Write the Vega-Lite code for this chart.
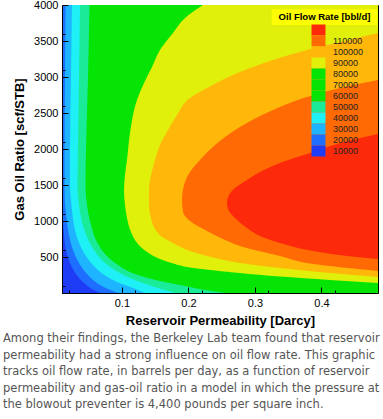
{
  "$schema": "https://vega.github.io/schema/vega-lite/v6.json",
  "width": 316,
  "height": 288,
  "autosize": {"type": "none"},
  "padding": {"left": 62, "top": 5, "right": 5, "bottom": 126},
  "background": "white",
  "config": {"view": {"stroke": "#000", "strokeWidth": 1}, "font": "Liberation Sans"},
  "title": {
    "text": [
      "Among their findings, the Berkeley Lab team found that reservoir",
      "permeability had a strong influence on oil flow rate. This graphic",
      "tracks oil flow rate, in barrels per day, as a function of reservoir",
      "permeability and gas-oil ratio in a model in which the pressure at",
      "the blowout preventer is 4,400 pounds per square inch."
    ],
    "orient": "bottom",
    "anchor": "start",
    "frame": "group",
    "dx": -59,
    "offset": 6,
    "font": "DejaVu Sans",
    "fontSize": 11.5,
    "fontWeight": "normal",
    "color": "#555555",
    "lineHeight": 16.5,
    "baseline": "top"
  },
  "resolve": {"axis": {"x": "independent", "y": "independent"}},
  "layer": [
    {
      "data": {
        "values": [
          {"band": "0", "perm": 0.01, "gor": 0},
          {"band": "0", "perm": 0.01, "gor": 4000},
          {"band": "10000", "perm": 0.0109, "gor": 4000},
          {"band": "10000", "perm": 0.0106, "gor": 2681},
          {"band": "10000", "perm": 0.0104, "gor": 1569},
          {"band": "10000", "perm": 0.0112, "gor": 1083},
          {"band": "10000", "perm": 0.0130, "gor": 806},
          {"band": "10000", "perm": 0.0160, "gor": 597},
          {"band": "10000", "perm": 0.0220, "gor": 417},
          {"band": "10000", "perm": 0.0310, "gor": 264},
          {"band": "10000", "perm": 0.0431, "gor": 139},
          {"band": "10000", "perm": 0.0551, "gor": 56},
          {"band": "10000", "perm": 0.0671, "gor": 0},
          {"band": "20000", "perm": 0.0153, "gor": 4000},
          {"band": "20000", "perm": 0.0145, "gor": 3000},
          {"band": "20000", "perm": 0.0138, "gor": 2000},
          {"band": "20000", "perm": 0.0138, "gor": 1431},
          {"band": "20000", "perm": 0.0160, "gor": 1083},
          {"band": "20000", "perm": 0.0205, "gor": 806},
          {"band": "20000", "perm": 0.0265, "gor": 597},
          {"band": "20000", "perm": 0.0356, "gor": 417},
          {"band": "20000", "perm": 0.0476, "gor": 264},
          {"band": "20000", "perm": 0.0626, "gor": 139},
          {"band": "20000", "perm": 0.0791, "gor": 56},
          {"band": "20000", "perm": 0.0942, "gor": 0},
          {"band": "30000", "perm": 0.0250, "gor": 4000},
          {"band": "30000", "perm": 0.0235, "gor": 3000},
          {"band": "30000", "perm": 0.0220, "gor": 2000},
          {"band": "30000", "perm": 0.0220, "gor": 1500},
          {"band": "30000", "perm": 0.0243, "gor": 1222},
          {"band": "30000", "perm": 0.0280, "gor": 944},
          {"band": "30000", "perm": 0.0340, "gor": 736},
          {"band": "30000", "perm": 0.0431, "gor": 556},
          {"band": "30000", "perm": 0.0551, "gor": 403},
          {"band": "30000", "perm": 0.0716, "gor": 264},
          {"band": "30000", "perm": 0.0927, "gor": 153},
          {"band": "30000", "perm": 0.1167, "gor": 69},
          {"band": "30000", "perm": 0.1348, "gor": 0},
          {"band": "40000", "perm": 0.0371, "gor": 4000},
          {"band": "40000", "perm": 0.0356, "gor": 3000},
          {"band": "40000", "perm": 0.0340, "gor": 2000},
          {"band": "40000", "perm": 0.0333, "gor": 1500},
          {"band": "40000", "perm": 0.0356, "gor": 1222},
          {"band": "40000", "perm": 0.0401, "gor": 986},
          {"band": "40000", "perm": 0.0476, "gor": 778},
          {"band": "40000", "perm": 0.0581, "gor": 597},
          {"band": "40000", "perm": 0.0731, "gor": 431},
          {"band": "40000", "perm": 0.0942, "gor": 292},
          {"band": "40000", "perm": 0.1197, "gor": 181},
          {"band": "40000", "perm": 0.1498, "gor": 83},
          {"band": "40000", "perm": 0.1799, "gor": 0},
          {"band": "50000", "perm": 0.0513, "gor": 4000},
          {"band": "50000", "perm": 0.0491, "gor": 3000},
          {"band": "50000", "perm": 0.0461, "gor": 2000},
          {"band": "50000", "perm": 0.0453, "gor": 1500},
          {"band": "50000", "perm": 0.0476, "gor": 1222},
          {"band": "50000", "perm": 0.0536, "gor": 944},
          {"band": "50000", "perm": 0.0626, "gor": 708},
          {"band": "50000", "perm": 0.0761, "gor": 528},
          {"band": "50000", "perm": 0.0942, "gor": 389},
          {"band": "50000", "perm": 0.1197, "gor": 264},
          {"band": "50000", "perm": 0.1573, "gor": 167},
          {"band": "50000", "perm": 0.1949, "gor": 97},
          {"band": "50000", "perm": 0.2250, "gor": 42},
          {"band": "50000", "perm": 0.2551, "gor": 0},
          {"band": "80000", "perm": 0.2219, "gor": 4000},
          {"band": "80000", "perm": 0.1949, "gor": 3819},
          {"band": "80000", "perm": 0.1768, "gor": 3611},
          {"band": "80000", "perm": 0.1573, "gor": 3375},
          {"band": "80000", "perm": 0.1453, "gor": 3139},
          {"band": "80000", "perm": 0.1333, "gor": 2917},
          {"band": "80000", "perm": 0.1227, "gor": 2681},
          {"band": "80000", "perm": 0.1122, "gor": 2222},
          {"band": "80000", "perm": 0.1077, "gor": 1847},
          {"band": "80000", "perm": 0.1047, "gor": 1639},
          {"band": "80000", "perm": 0.1032, "gor": 1431},
          {"band": "80000", "perm": 0.1047, "gor": 1222},
          {"band": "80000", "perm": 0.1077, "gor": 1042},
          {"band": "80000", "perm": 0.1137, "gor": 847},
          {"band": "80000", "perm": 0.1242, "gor": 681},
          {"band": "80000", "perm": 0.1378, "gor": 569},
          {"band": "80000", "perm": 0.1573, "gor": 472},
          {"band": "80000", "perm": 0.1799, "gor": 403},
          {"band": "80000", "perm": 0.2024, "gor": 354},
          {"band": "80000", "perm": 0.2400, "gor": 313},
          {"band": "80000", "perm": 0.2775, "gor": 278},
          {"band": "80000", "perm": 0.3377, "gor": 229},
          {"band": "80000", "perm": 0.4128, "gor": 181},
          {"band": "80000", "perm": 0.4850, "gor": 139},
          {"band": "90000", "perm": 0.4850, "gor": 3611},
          {"band": "90000", "perm": 0.4279, "gor": 3486},
          {"band": "90000", "perm": 0.3783, "gor": 3375},
          {"band": "90000", "perm": 0.3272, "gor": 3236},
          {"band": "90000", "perm": 0.2775, "gor": 3069},
          {"band": "90000", "perm": 0.2279, "gor": 2847},
          {"band": "90000", "perm": 0.2024, "gor": 2708},
          {"band": "90000", "perm": 0.1829, "gor": 2472},
          {"band": "90000", "perm": 0.1693, "gor": 2264},
          {"band": "90000", "perm": 0.1573, "gor": 2056},
          {"band": "90000", "perm": 0.1498, "gor": 1847},
          {"band": "90000", "perm": 0.1438, "gor": 1639},
          {"band": "90000", "perm": 0.1408, "gor": 1431},
          {"band": "90000", "perm": 0.1408, "gor": 1222},
          {"band": "90000", "perm": 0.1438, "gor": 1042},
          {"band": "90000", "perm": 0.1498, "gor": 889},
          {"band": "90000", "perm": 0.1603, "gor": 778},
          {"band": "90000", "perm": 0.1768, "gor": 694},
          {"band": "90000", "perm": 0.2024, "gor": 583},
          {"band": "90000", "perm": 0.2279, "gor": 514},
          {"band": "90000", "perm": 0.2775, "gor": 417},
          {"band": "90000", "perm": 0.3377, "gor": 347},
          {"band": "90000", "perm": 0.4128, "gor": 278},
          {"band": "90000", "perm": 0.4850, "gor": 222},
          {"band": "100000", "perm": 0.4850, "gor": 2958},
          {"band": "100000", "perm": 0.4279, "gor": 2847},
          {"band": "100000", "perm": 0.3783, "gor": 2722},
          {"band": "100000", "perm": 0.3272, "gor": 2542},
          {"band": "100000", "perm": 0.2775, "gor": 2306},
          {"band": "100000", "perm": 0.2400, "gor": 2056},
          {"band": "100000", "perm": 0.2174, "gor": 1847},
          {"band": "100000", "perm": 0.2024, "gor": 1681},
          {"band": "100000", "perm": 0.1934, "gor": 1500},
          {"band": "100000", "perm": 0.1904, "gor": 1292},
          {"band": "100000", "perm": 0.1919, "gor": 1125},
          {"band": "100000", "perm": 0.2024, "gor": 1000},
          {"band": "100000", "perm": 0.2279, "gor": 861},
          {"band": "100000", "perm": 0.2520, "gor": 750},
          {"band": "100000", "perm": 0.2775, "gor": 653},
          {"band": "100000", "perm": 0.3377, "gor": 514},
          {"band": "100000", "perm": 0.3873, "gor": 403},
          {"band": "100000", "perm": 0.4850, "gor": 306},
          {"band": "110000", "perm": 0.4850, "gor": 2208},
          {"band": "110000", "perm": 0.4279, "gor": 2083},
          {"band": "110000", "perm": 0.3873, "gor": 1958},
          {"band": "110000", "perm": 0.3377, "gor": 1806},
          {"band": "110000", "perm": 0.3076, "gor": 1681},
          {"band": "110000", "perm": 0.2881, "gor": 1569},
          {"band": "110000", "perm": 0.2700, "gor": 1458},
          {"band": "110000", "perm": 0.2610, "gor": 1361},
          {"band": "110000", "perm": 0.2580, "gor": 1250},
          {"band": "110000", "perm": 0.2610, "gor": 1139},
          {"band": "110000", "perm": 0.2700, "gor": 1042},
          {"band": "110000", "perm": 0.2881, "gor": 903},
          {"band": "110000", "perm": 0.3076, "gor": 792},
          {"band": "110000", "perm": 0.3377, "gor": 694},
          {"band": "110000", "perm": 0.3873, "gor": 583},
          {"band": "110000", "perm": 0.4384, "gor": 514},
          {"band": "110000", "perm": 0.4850, "gor": 472}
        ]
      },
      "mark": {"type": "area", "orient": "horizontal", "interpolate": "monotone", "clip": true},
      "encoding": {
        "y": {
          "field": "gor", "type": "quantitative",
          "scale": {"domain": [0, 4000], "nice": false, "zero": false},
          "axis": {
            "title": "Gas Oil Ratio [scf/STB]",
            "values": [500, 1000, 1500, 2000, 2500, 3000, 3500, 4000],
            "format": "d",
            "grid": false, "zindex": 1,
            "domainColor": "#000", "tickColor": "#000", "tickSize": -6,
            "labelPadding": 10, "labelFontSize": 11, "labelColor": "#000", "labelFont": "Liberation Sans",
            "labelFlush": false, "labelOverlap": false,
            "titleFontSize": 13, "titleFontWeight": "bold", "titleColor": "#000", "titleFont": "Liberation Sans", "titlePadding": 7
          }
        },
        "x": {
          "field": "perm", "type": "quantitative", "stack": null,
          "scale": {"domain": [0.01, 0.485], "nice": false, "zero": false},
          "axis": {
            "title": "Reservoir Permeability [Darcy]",
            "values": [0.1, 0.2, 0.3, 0.4],
            "format": ".1f",
            "grid": false, "zindex": 1,
            "domainColor": "#000", "tickColor": "#000", "tickSize": -6,
            "labelPadding": 10, "labelFontSize": 11, "labelColor": "#000", "labelFont": "Liberation Sans",
            "labelFlush": false, "labelOverlap": false,
            "titleFontSize": 13, "titleFontWeight": "bold", "titleColor": "#000", "titleFont": "Liberation Sans", "titlePadding": 6
          }
        },
        "x2": {"datum": 0.485},
        "color": {
          "field": "band", "type": "nominal",
          "scale": {
            "domain": ["110000", "100000", "90000", "80000", "70000", "60000", "50000", "40000", "30000", "20000", "10000", "0"],
            "range": ["#fc2a0a", "#ff6a05", "#ffb80a", "#e0f00a", "#05e405", "#05e405", "#05e405", "#1aeb98", "#1ef0f5", "#1eb4ff", "#1e6eff", "#1e3cf5"]
          },
          "legend": {
            "orient": "none", "legendX": 251, "legendY": 19.5, "title": null, "padding": 0,
            "symbolType": "M-1.27,-1H1.27V1H-1.27Z", "symbolSize": 121, "symbolStrokeWidth": 0, "symbolOpacity": 1,
            "rowPadding": 0, "labelOffset": 9, "labelFontSize": 9, "labelFont": "Liberation Sans", "labelColor": "#222",
            "labelBaseline": "middle",
            "labelExpr": "{'110000': '', '100000': '110000', '90000': '100000', '80000': '90000', '70000': '80000', '60000': '70000', '50000': '60000', '40000': '50000', '30000': '40000', '20000': '30000', '10000': '20000', '0': '10000'}[datum.label]"
          }
        }
      }
    },
    {
      "data": {"values": [{"label": "Oil Flow Rate [bbl/d]", "k0": 0.3252, "k1": 0.4839, "g0": 3722, "g1": 3940, "kc": 0.4046, "gc": 3831}]},
      "layer": [
        {
          "mark": {"type": "rect", "color": "#ffff00"},
          "encoding": {
            "x": {"field": "k0", "type": "quantitative", "axis": {"title": null, "values": [0.02, 0.04, 0.06, 0.08, 0.12, 0.14, 0.16, 0.18, 0.22, 0.24, 0.26, 0.28, 0.32, 0.34, 0.36, 0.38, 0.42, 0.44, 0.46, 0.48], "labels": false, "domain": false, "grid": false, "tickSize": -3, "tickColor": "#000", "zindex": 1, "orient": "bottom"}},
            "x2": {"field": "k1"},
            "y": {"field": "g0", "type": "quantitative", "axis": {"title": null, "values": [100, 200, 300, 400, 600, 700, 800, 900, 1100, 1200, 1300, 1400, 1600, 1700, 1800, 1900, 2100, 2200, 2300, 2400, 2600, 2700, 2800, 2900, 3100, 3200, 3300, 3400, 3600, 3700, 3800, 3900], "labels": false, "domain": false, "grid": false, "tickSize": -3, "tickColor": "#000", "zindex": 1, "orient": "left"}},
            "y2": {"field": "g1"}
          }
        },
        {
          "mark": {"type": "text", "fontWeight": "bold", "fontSize": 9.5, "font": "Liberation Sans", "color": "#000"},
          "encoding": {
            "x": {"field": "kc", "type": "quantitative"},
            "y": {"field": "gc", "type": "quantitative"},
            "text": {"field": "label"}
          }
        }
      ]
    }
  ]
}
